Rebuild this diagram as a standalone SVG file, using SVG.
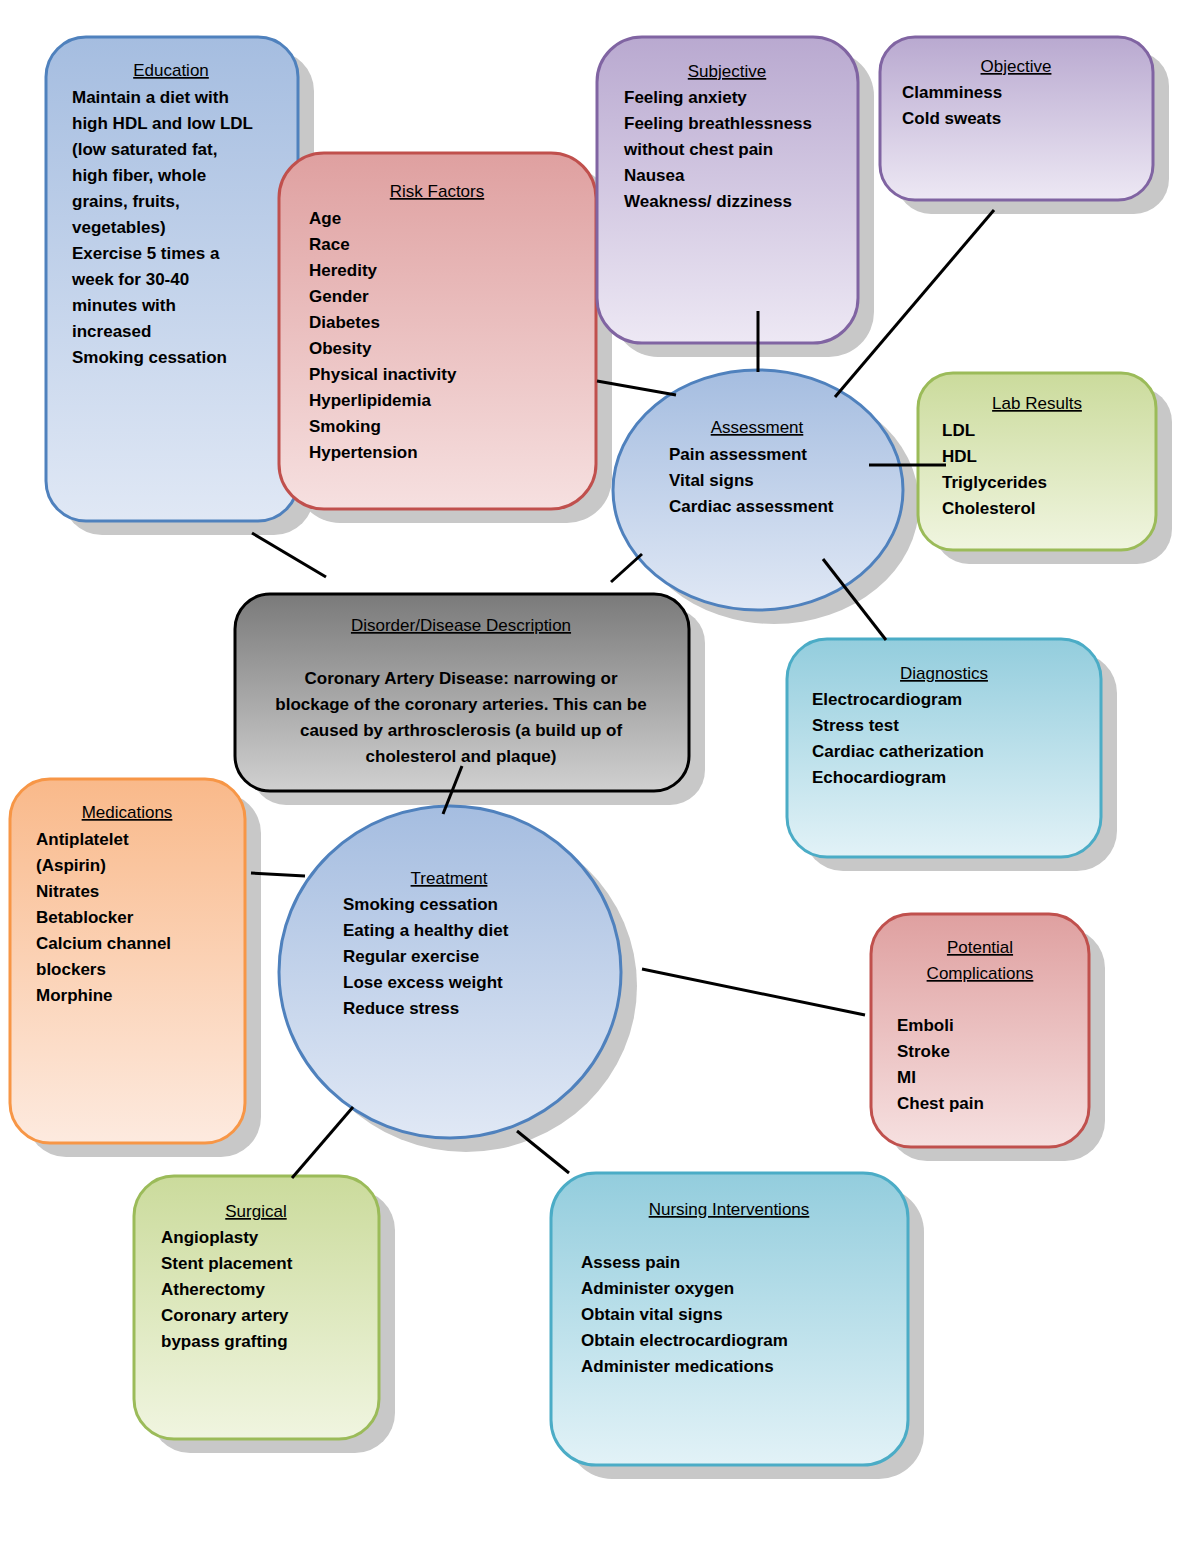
<svg xmlns="http://www.w3.org/2000/svg" width="1200" height="1553" viewBox="0 0 1200 1553">
<defs>
<linearGradient id="gb" x1="0" y1="0" x2="0" y2="1"><stop offset="0" stop-color="#a5bde0"/><stop offset="1" stop-color="#e0e8f5"/></linearGradient>
<linearGradient id="gr" x1="0" y1="0" x2="0" y2="1"><stop offset="0" stop-color="#dfa0a0"/><stop offset="1" stop-color="#f6e0e0"/></linearGradient>
<linearGradient id="gp" x1="0" y1="0" x2="0" y2="1"><stop offset="0" stop-color="#b9a9d0"/><stop offset="1" stop-color="#ede8f4"/></linearGradient>
<linearGradient id="gg" x1="0" y1="0" x2="0" y2="1"><stop offset="0" stop-color="#cbdb9c"/><stop offset="1" stop-color="#f0f5e0"/></linearGradient>
<linearGradient id="gt" x1="0" y1="0" x2="0" y2="1"><stop offset="0" stop-color="#93cddd"/><stop offset="1" stop-color="#e2f2f7"/></linearGradient>
<linearGradient id="go" x1="0" y1="0" x2="0" y2="1"><stop offset="0" stop-color="#f9b98a"/><stop offset="1" stop-color="#fdeadf"/></linearGradient>
<linearGradient id="gk" x1="0" y1="0" x2="0" y2="1"><stop offset="0" stop-color="#7a7a7a"/><stop offset="1" stop-color="#d0d0d0"/></linearGradient>
</defs>
<style>
.sh{fill:#c8c8c8}
.b{stroke:#4f81bd;stroke-width:3;fill:url(#gb)}
.r{stroke:#c0504d;stroke-width:3;fill:url(#gr)}
.p{stroke:#8064a2;stroke-width:3;fill:url(#gp)}
.g{stroke:#9bbb59;stroke-width:3;fill:url(#gg)}
.t{stroke:#4bacc6;stroke-width:3;fill:url(#gt)}
.o{stroke:#f79646;stroke-width:3;fill:url(#go)}
.k{stroke:#000;stroke-width:3;fill:url(#gk)}
text{font-family:"Liberation Sans",Arial,sans-serif;font-size:17px;fill:#000}
.h{text-decoration:underline}
.x{font-weight:bold}
.c{stroke:#000;stroke-width:3}
</style>
<rect width="1200" height="1553" fill="#fff"/>
<g id="education"><rect class="sh" x="62" y="51" width="252" height="484" rx="40"/><rect class="b" x="46" y="37" width="252" height="484" rx="40"/>
<text x="171" y="76" text-anchor="middle" class="h">Education</text>
<text class="x" x="72" y="103">Maintain a diet with<tspan x="72" dy="26">high HDL and low LDL</tspan><tspan x="72" dy="26">(low saturated fat,</tspan><tspan x="72" dy="26">high fiber, whole</tspan><tspan x="72" dy="26">grains, fruits,</tspan><tspan x="72" dy="26">vegetables)</tspan><tspan x="72" dy="26">Exercise 5 times a</tspan><tspan x="72" dy="26">week for 30-40</tspan><tspan x="72" dy="26">minutes with</tspan><tspan x="72" dy="26">increased</tspan><tspan x="72" dy="26">Smoking cessation</tspan></text></g>
<g id="risk"><rect class="sh" x="295" y="167" width="317" height="356" rx="45"/><rect class="r" x="279" y="153" width="317" height="356" rx="45"/>
<text x="437" y="197" text-anchor="middle" class="h">Risk Factors</text>
<text class="x" x="309" y="224">Age<tspan x="309" dy="26">Race</tspan><tspan x="309" dy="26">Heredity</tspan><tspan x="309" dy="26">Gender</tspan><tspan x="309" dy="26">Diabetes</tspan><tspan x="309" dy="26">Obesity</tspan><tspan x="309" dy="26">Physical inactivity</tspan><tspan x="309" dy="26">Hyperlipidemia</tspan><tspan x="309" dy="26">Smoking</tspan><tspan x="309" dy="26">Hypertension</tspan></text></g>
<g id="subjective"><rect class="sh" x="613" y="51" width="261" height="306" rx="45"/><rect class="p" x="597" y="37" width="261" height="306" rx="45"/>
<text x="727" y="77" text-anchor="middle" class="h">Subjective</text>
<text class="x" x="624" y="103">Feeling anxiety<tspan x="624" dy="26">Feeling breathlessness</tspan><tspan x="624" dy="26">without chest pain</tspan><tspan x="624" dy="26">Nausea</tspan><tspan x="624" dy="26">Weakness/ dizziness</tspan></text></g>
<g id="objective"><rect class="sh" x="896" y="51" width="273" height="163" rx="35"/><rect class="p" x="880" y="37" width="273" height="163" rx="35"/>
<text x="1016" y="72" text-anchor="middle" class="h">Objective</text>
<text class="x" x="902" y="98">Clamminess<tspan x="902" dy="26">Cold sweats</tspan></text></g>
<g id="assessment"><ellipse class="sh" cx="774" cy="504" rx="145" ry="120"/><ellipse class="b" cx="758" cy="490" rx="145" ry="120"/>
<text x="757" y="433" text-anchor="middle" class="h">Assessment</text>
<text class="x" x="669" y="460">Pain assessment<tspan x="669" dy="26">Vital signs</tspan><tspan x="669" dy="26">Cardiac assessment</tspan></text></g>
<g id="lab"><rect class="sh" x="934" y="387" width="238" height="177" rx="35"/><rect class="g" x="918" y="373" width="238" height="177" rx="35"/>
<text x="1037" y="409" text-anchor="middle" class="h">Lab Results</text>
<text class="x" x="942" y="436">LDL<tspan x="942" dy="26">HDL</tspan><tspan x="942" dy="26">Triglycerides</tspan><tspan x="942" dy="26">Cholesterol</tspan></text></g>
<g id="disorder"><rect class="sh" x="251" y="608" width="454" height="197" rx="35"/><rect class="k" x="235" y="594" width="454" height="197" rx="35"/>
<text x="461" y="631" text-anchor="middle" class="h">Disorder/Disease Description</text>
<text class="x" x="461" y="684" text-anchor="middle">Coronary Artery Disease: narrowing or<tspan x="461" dy="26">blockage of the coronary arteries. This can be</tspan><tspan x="461" dy="26">caused by arthrosclerosis (a build up of</tspan><tspan x="461" dy="26">cholesterol and plaque)</tspan></text></g>
<g id="diagnostics"><rect class="sh" x="803" y="653" width="314" height="218" rx="40"/><rect class="t" x="787" y="639" width="314" height="218" rx="40"/>
<text x="944" y="679" text-anchor="middle" class="h">Diagnostics</text>
<text class="x" x="812" y="705">Electrocardiogram<tspan x="812" dy="26">Stress test</tspan><tspan x="812" dy="26">Cardiac catherization</tspan><tspan x="812" dy="26">Echocardiogram</tspan></text></g>
<g id="medications"><rect class="sh" x="26" y="793" width="235" height="364" rx="40"/><rect class="o" x="10" y="779" width="235" height="364" rx="40"/>
<text x="127" y="818" text-anchor="middle" class="h">Medications</text>
<text class="x" x="36" y="845">Antiplatelet<tspan x="36" dy="26">(Aspirin)</tspan><tspan x="36" dy="26">Nitrates</tspan><tspan x="36" dy="26">Betablocker</tspan><tspan x="36" dy="26">Calcium channel</tspan><tspan x="36" dy="26">blockers</tspan><tspan x="36" dy="26">Morphine</tspan></text></g>
<g id="treatment"><ellipse class="sh" cx="466" cy="986" rx="171" ry="166"/><ellipse class="b" cx="450" cy="972" rx="171" ry="166"/>
<text x="449" y="884" text-anchor="middle" class="h">Treatment</text>
<text class="x" x="343" y="910">Smoking cessation<tspan x="343" dy="26">Eating a healthy diet</tspan><tspan x="343" dy="26">Regular exercise</tspan><tspan x="343" dy="26">Lose excess weight</tspan><tspan x="343" dy="26">Reduce stress</tspan></text></g>
<g id="complications"><rect class="sh" x="887" y="928" width="218" height="233" rx="40"/><rect class="r" x="871" y="914" width="218" height="233" rx="40"/>
<text x="980" y="953" text-anchor="middle" class="h">Potential<tspan x="980" dy="26">Complications</tspan></text>
<text class="x" x="897" y="1031">Emboli<tspan x="897" dy="26">Stroke</tspan><tspan x="897" dy="26">MI</tspan><tspan x="897" dy="26">Chest pain</tspan></text></g>
<g id="surgical"><rect class="sh" x="150" y="1190" width="245" height="263" rx="40"/><rect class="g" x="134" y="1176" width="245" height="263" rx="40"/>
<text x="256" y="1217" text-anchor="middle" class="h">Surgical</text>
<text class="x" x="161" y="1243">Angioplasty<tspan x="161" dy="26">Stent placement</tspan><tspan x="161" dy="26">Atherectomy</tspan><tspan x="161" dy="26">Coronary artery</tspan><tspan x="161" dy="26">bypass grafting</tspan></text></g>
<g id="nursing"><rect class="sh" x="567" y="1187" width="357" height="292" rx="45"/><rect class="t" x="551" y="1173" width="357" height="292" rx="45"/>
<text x="729" y="1215" text-anchor="middle" class="h">Nursing Interventions</text>
<text class="x" x="581" y="1268">Assess pain<tspan x="581" dy="26">Administer oxygen</tspan><tspan x="581" dy="26">Obtain vital signs</tspan><tspan x="581" dy="26">Obtain electrocardiogram</tspan><tspan x="581" dy="26">Administer medications</tspan></text></g>
<g id="connectors">
<line class="c" x1="252" y1="533" x2="326" y2="577"/>
<line class="c" x1="597" y1="381" x2="676" y2="395"/>
<line class="c" x1="758" y1="311" x2="758" y2="372"/>
<line class="c" x1="994" y1="210" x2="835" y2="397"/>
<line class="c" x1="869" y1="465" x2="946" y2="465"/>
<line class="c" x1="642" y1="554" x2="611" y2="582"/>
<line class="c" x1="823" y1="559" x2="886" y2="640"/>
<line class="c" x1="462" y1="766" x2="443" y2="814"/>
<line class="c" x1="251" y1="873" x2="305" y2="876"/>
<line class="c" x1="642" y1="969" x2="865" y2="1015"/>
<line class="c" x1="353" y1="1107" x2="292" y2="1178"/>
<line class="c" x1="517" y1="1131" x2="569" y2="1173"/>
</g>
</svg>
